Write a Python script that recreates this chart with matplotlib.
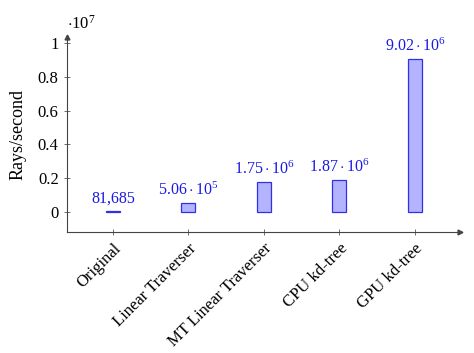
import matplotlib
matplotlib.use('Agg')
import matplotlib.pyplot as plt

# data
methods = ['Original', 'Linear Traverser', 'MT Linear Traverser', 'CPU kd-tree', 'GPU kd-tree']
rays_per_second = [81685, 5.06e5, 1.75e6, 1.87e6, 9.02e6]
value_labels = ['81,685', r'$5.06\cdot10^{5}$', r'$1.75\cdot10^{6}$',
                r'$1.87\cdot10^{6}$', r'$9.02\cdot10^{6}$']
y_ticks = [0, 0.2, 0.4, 0.6, 0.8, 1]
y_ticklabels = ['0', '0.2', '0.4', '0.6', '0.8', '1']

plt.rcParams['font.family'] = ['Liberation Serif', 'DejaVu Serif']
plt.rcParams['mathtext.fontset'] = 'custom'
plt.rcParams['mathtext.rm'] = 'Liberation Serif'
plt.rcParams['mathtext.it'] = 'Liberation Serif:italic'

fig = plt.figure(figsize=(4.74, 3.53), dpi=100)
ax = fig.add_axes([0.1414, 0.3428, 0.8291, 0.5524])

scale = 1e7
x = list(range(len(methods)))
heights = [v / scale for v in rays_per_second]
ax.bar(x, heights, width=0.185, color='#b3b3ff', edgecolor='#3030e8', linewidth=0.9)

for xi, h, lab in zip(x, heights, value_labels):
    ax.annotate(lab, (xi, h), xytext=(0, 3), textcoords='offset points',
                ha='center', va='bottom', color='#1a1ae6', fontsize=11.5)

ax.set_xlim(-0.61, 4.6)
ax.set_ylim(-0.118, 1.035)
ax.set_xticks(x)
ax.set_xticklabels(methods, rotation=45, ha='right', rotation_mode='anchor', fontsize=12)
ax.set_yticks(y_ticks)
ax.set_yticklabels(y_ticklabels, fontsize=12)
ax.tick_params(direction='inout', length=4, width=0.6, color='#555555', pad=4)

for s in ['top', 'right']:
    ax.spines[s].set_visible(False)
for s in ['left', 'bottom']:
    ax.spines[s].set_color('#444444')
    ax.spines[s].set_linewidth(0.8)

# arrow heads on the axes
ax.plot(1, 0, '>', color='#444444', markersize=3.5, transform=ax.transAxes, clip_on=False)
ax.plot(0, 1, '^', color='#444444', markersize=3.5, transform=ax.transAxes, clip_on=False)

ax.set_ylabel('Rays/second', fontsize=13, labelpad=8)
ax.text(0.0, 1.02, r'$\cdot10^{7}$', transform=ax.transAxes, ha='left', va='bottom', fontsize=12)

fig.savefig('out.png', dpi=100)
